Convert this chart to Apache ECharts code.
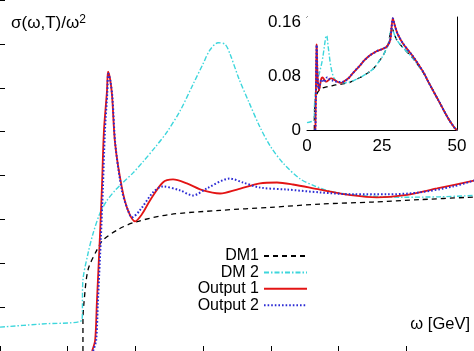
<!DOCTYPE html>
<html>
<head>
<meta charset="utf-8">
<script src="https://cdn.jsdelivr.net/npm/echarts@6/dist/echarts.min.js"></script>
<style>
html, body { margin: 0; padding: 0; background: #fff; }
#chart { width: 474px; height: 351px; }
</style>
</head>
<body>
<div id="chart"></div>
<script>
// main panel, omega in GeV (0..14)
const dm1X = [2.45, 2.45, 2.48, 2.6, 2.86, 3.04, 3.5, 4.0, 5.0, 6.5, 8.0, 9.5, 11.0, 12.4, 14.0];
const dm1Y = [0, 0.014, 0.022, 0.037, 0.046, 0.0505, 0.0555, 0.0588, 0.0622, 0.0641, 0.0655, 0.067, 0.0679, 0.069, 0.0702];

const dm2X = [0, 1.2, 2.42, 2.45, 2.6, 2.75, 2.95, 3.16, 3.4, 3.63, 3.93, 4.22, 4.6, 4.93, 5.32, 5.7, 6.0, 6.2, 6.44, 6.65, 6.79, 7.06, 7.35, 7.68, 8.0, 8.37, 8.86, 9.3, 9.75, 10.43, 11.2, 11.9, 13.0, 14.0];
const dm2Y = [0.0109, 0.0123, 0.0141, 0.0323, 0.0445, 0.0536, 0.0627, 0.0686, 0.0732, 0.0768, 0.0812, 0.0862, 0.0932, 0.0998, 0.1095, 0.1215, 0.131, 0.1372, 0.1405, 0.1398, 0.1355, 0.124, 0.1135, 0.102, 0.093, 0.0855, 0.0785, 0.0752, 0.0728, 0.0712, 0.0704, 0.0701, 0.0703, 0.0709];

const out1X = [2.72, 2.81, 2.86, 2.95, 3.01, 3.07, 3.16, 3.19, 3.25, 3.31, 3.4, 3.6, 3.78, 3.99, 4.19, 4.43, 4.81, 5.11, 5.52, 6.0, 6.5, 7.0, 7.68, 8.18, 8.65, 9.45, 10.43, 11.13, 11.9, 12.91, 14.0];
const out1Y = [0, 0.005, 0.0218, 0.0518, 0.0745, 0.1005, 0.1186, 0.1273, 0.1241, 0.1164, 0.0945, 0.0745, 0.0641, 0.0591, 0.0623, 0.0686, 0.0768, 0.0782, 0.0764, 0.0732, 0.0718, 0.0736, 0.0764, 0.0768, 0.0759, 0.0736, 0.0709, 0.070, 0.0709, 0.0741, 0.0777];

const out2X = [2.75, 2.84, 2.89, 2.98, 3.04, 3.1, 3.17, 3.2, 3.26, 3.32, 3.41, 3.6, 3.78, 3.9, 4.13, 4.52, 4.81, 5.32, 5.7, 6.11, 6.79, 7.18, 7.68, 8.48, 9.45, 10.43, 11.43, 12.4, 13.38, 14.0];
const out2Y = [0, 0.005, 0.0218, 0.0518, 0.0745, 0.1005, 0.1177, 0.1264, 0.1232, 0.1155, 0.0936, 0.0732, 0.0641, 0.0609, 0.0641, 0.0723, 0.075, 0.0732, 0.0709, 0.0741, 0.0786, 0.0768, 0.0745, 0.0736, 0.0723, 0.0714, 0.0714, 0.0723, 0.075, 0.0777];

// inset continuation above 14 GeV
const outTailX = [15, 16.6, 17.7, 19, 21, 23.2, 24.3, 25.4, 26.6, 27.7, 28.2, 28.6, 29.3, 30.2, 32.1, 35.4, 38.8, 40.4, 41, 44.3, 47.1, 49.3, 50];
const outTailY = [0.083, 0.091, 0.096, 0.103, 0.111, 0.117, 0.119, 0.121, 0.124, 0.133, 0.153, 0.166, 0.155, 0.143, 0.128, 0.109, 0.086, 0.072, 0.067, 0.040, 0.017, 0.0025, 0];
const dmTailX = [15, 17.7, 20, 22.1, 24, 25.4, 27.1, 28.2, 28.6, 29.3, 30.2, 32.1, 35.4, 38.8, 40.4, 41, 44.3, 47.1, 49.3, 50];
const dmTailY = [0.0725, 0.078, 0.084, 0.091, 0.102, 0.111, 0.128, 0.151, 0.149, 0.140, 0.132, 0.122, 0.106, 0.085, 0.072, 0.067, 0.040, 0.017, 0.0025, 0];

const mainXTicks = { min: 0, max: 14, interval: 2 };
const mainYTicks = { min: 0, max: 0.16, interval: 0.02 };
const insetXTicks = { min: 0, max: 50, interval: 25 };
const insetYTicks = { min: 0, max: 0.168, interval: 0.08 };

const pairs = (xs, ys) => xs.map((x, i) => [x, ys[i]]);

const styles = {
	'DM1': { color: '#000000', width: 1.3, type: [5, 4] },
	'DM 2': { color: '#3dd6dc', width: 1.4, type: [5, 2, 1.5, 2] },
	'Output 1': { color: '#e31414', width: 1.8, type: 'solid' },
	'Output 2': { color: '#2b2bd4', width: 2, type: [1.6, 2] }
};

const line = (name, data, idx) => ({
	name: name,
	type: 'line',
	xAxisIndex: idx,
	yAxisIndex: idx,
	data: data,
	symbol: 'none',
	smooth: 0.3,
	clip: true,
	lineStyle: styles[name],
	itemStyle: { color: styles[name].color },
	z: idx === 1 ? 5 : 2
});

const font = 'Liberation Sans, Arial, sans-serif';
const tick = { show: true, inside: true, length: 5, lineStyle: { color: '#000', width: 1 } };
const insetTick = { show: true, inside: true, length: 4, lineStyle: { color: '#000', width: 1 } };
const noLine = { show: false };
const frame = { show: true, onZero: false, lineStyle: { color: '#000', width: 1 } };

const chart = echarts.init(document.getElementById('chart'));

chart.setOption({
	animation: false,
	backgroundColor: '#fff',
	grid: [
		{ left: 0, right: 0, top: -1, bottom: 0 },
		{ left: 307, top: 17, width: 150, height: 113, show: true, backgroundColor: '#fff', borderWidth: 0, z: 3 }
	],
	xAxis: [
		{ type: 'value', gridIndex: 0, ...mainXTicks, axisLine: noLine, axisTick: tick, axisLabel: { show: false }, splitLine: { show: false } },
		{ type: 'value', gridIndex: 1, ...insetXTicks, axisLine: frame, axisTick: insetTick, splitLine: { show: false },
			axisLabel: { color: '#000', fontSize: 17, fontFamily: font, margin: 8 } },
		{ type: 'value', gridIndex: 0, position: 'top', ...mainXTicks, axisLine: noLine, axisTick: tick, axisLabel: { show: false }, splitLine: { show: false } },
		{ type: 'value', gridIndex: 1, position: 'top', ...insetXTicks, axisLine: frame, axisTick: insetTick, axisLabel: { show: false }, splitLine: { show: false } }
	],
	yAxis: [
		{ type: 'value', gridIndex: 0, ...mainYTicks, axisLine: noLine, axisTick: tick, axisLabel: { show: false }, splitLine: { show: false } },
		{ type: 'value', gridIndex: 1, ...insetYTicks, axisLine: frame, axisTick: insetTick, splitLine: { show: false },
			axisLabel: {
				color: '#000', fontSize: 17, fontFamily: font, margin: 6,
				formatter: v => {
					const k = v / 0.08;
					if (Math.abs(k - Math.round(k)) > 1e-6) return '';
					return v === 0 ? '0' : v.toFixed(2);
				}
			} },
		{ type: 'value', gridIndex: 0, position: 'right', ...mainYTicks, axisLine: noLine, axisTick: tick, axisLabel: { show: false }, splitLine: { show: false } },
		{ type: 'value', gridIndex: 1, position: 'right', ...insetYTicks, axisLine: frame, axisTick: insetTick, axisLabel: { show: false }, splitLine: { show: false } }
	],
	legend: {
		orient: 'vertical',
		align: 'right',
		right: 161,
		top: 243,
		itemWidth: 43,
		itemHeight: 10,
		itemGap: 0.4,
		data: ['DM1', 'DM 2', 'Output 1', 'Output 2'],
		itemStyle: { color: 'rgba(0,0,0,0)', borderWidth: 0, opacity: 0 },
		textStyle: { color: '#000', fontSize: 16, fontFamily: font, lineHeight: 16 }
	},
	graphic: [
		{
			type: 'text', left: 11, top: 14,
			style: {
				text: 'σ(ω,T)/ω{sup|2}',
				fill: '#000', fontSize: 17, fontFamily: font,
				rich: { sup: { fontSize: 12, fontFamily: font, verticalAlign: 'top', padding: [0, 0, 6, 0] } }
			}
		},
		{
			type: 'text', right: 4, top: 316,
			style: { text: 'ω [GeV]', fill: '#000', fontSize: 16.5, fontFamily: font }
		}
	],
	series: [
		line('DM1', pairs(dm1X, dm1Y), 0),
		line('DM 2', pairs(dm2X, dm2Y), 0),
		line('Output 1', pairs(out1X, out1Y), 0),
		line('Output 2', pairs(out2X, out2Y), 0),
		line('DM1', pairs(dm1X.concat(dmTailX), dm1Y.concat(dmTailY)), 1),
		line('DM 2', pairs(dm2X.concat(dmTailX), dm2Y.concat(dmTailY)), 1),
		line('Output 1', pairs(out1X.concat(outTailX), out1Y.concat(outTailY)), 1),
		line('Output 2', pairs(out2X.concat(outTailX), out2Y.concat(outTailY)), 1)
	]
});
</script>
</body>
</html>
